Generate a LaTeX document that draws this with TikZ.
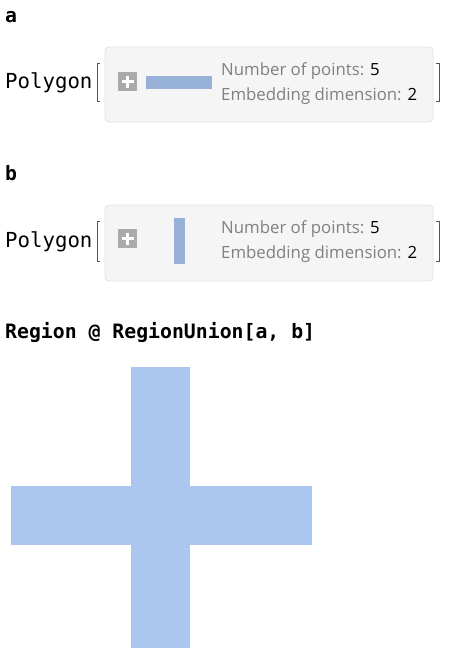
\documentclass[tikz,border=0pt]{standalone}
\usepackage{fontspec}
\setmainfont{Open Sans}
\newfontfamily\codefont{DejaVu Sans Mono}
\usetikzlibrary{positioning}
\definecolor{boxfill}{HTML}{F5F5F5}
\definecolor{boxline}{HTML}{E2E2E2}
\definecolor{iconfill}{HTML}{AAAAAA}
\definecolor{barfill}{HTML}{97B1D9}
\definecolor{regionfill}{HTML}{ABC7F0}
\definecolor{labelgray}{HTML}{808080}
\definecolor{brackgray}{HTML}{555555}
\tikzset{input label/.style={anchor=base west,inner sep=0pt,font=\codefont\bfseries\fontsize{19.8}{19.8}\selectfont},
         head label/.style={anchor=base west,inner sep=0pt,font=\codefont\fontsize{20.7}{20.7}\selectfont},
         info label/.style={anchor=base west,inner sep=0pt,text=labelgray,font=\fontsize{16.8}{16.8}\selectfont},
         summary box/.style={draw=boxline,fill=boxfill,rounded corners=4pt,line width=0.8pt},
         bracket/.style={draw=brackgray,line width=0.8pt},
            }

\begin{document}
\begin{tikzpicture}[x=1pt,y=-1pt]
    \useasboundingbox (0,0) rectangle (452,648);

    % polygon a
    \node[input label] (a) at (5,22) {a};
    \node[head label] (pa) at (5,88) {Polygon};
    \path[bracket] (100,63) -- (97,63) -- (97,101) -- (100,101);
    \path[summary box] (105,47) rectangle (433,122);
    \fill[iconfill] (118,72) rectangle (137,91);
    \draw[white,line width=3pt] (121.5,81.5) -- (133.5,81.5) (127.5,75.5) -- (127.5,87.5);
    \fill[barfill] (146,76) rectangle (212,89);
    \node[info label] (na) at (221,75) {Number of points: \textcolor{black}{5}};
    \node[info label] (ea) at (221,100) {Embedding dimension: \textcolor{black}{2}};
    \path[bracket] (436,63) -- (439,63) -- (439,101) -- (436,101);

    % polygon b
    \node[input label] (b) at (5,180) {b};
    \node[head label] (pb) at (5,247) {Polygon};
    \path[bracket] (100,221) -- (97,221) -- (97,261) -- (100,261);
    \path[summary box] (105,205) rectangle (433,281);
    \fill[iconfill] (118,229) rectangle (137,248);
    \draw[white,line width=3pt] (121.5,238.5) -- (133.5,238.5) (127.5,232.5) -- (127.5,244.5);
    \fill[barfill] (174,218) rectangle (185,264);
    \node[info label] (nb) at (221,233) {Number of points: \textcolor{black}{5}};
    \node[info label] (eb) at (221,258) {Embedding dimension: \textcolor{black}{2}};
    \path[bracket] (436,221) -- (439,221) -- (439,261) -- (436,261);

    % union
    \node[input label] (u) at (5,338) {Region @ RegionUnion[a, b]};
    \fill[regionfill] (131,367) rectangle (190,648);
    \fill[regionfill] (11,486) rectangle (312,545);

\end{tikzpicture}
\end{document}
